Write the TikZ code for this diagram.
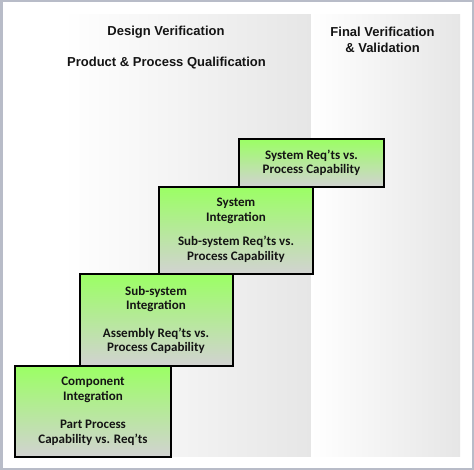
\documentclass[tikz,border=0pt]{standalone}
\usepackage{fontspec}
\setmainfont{Carlito}
\newfontfamily\arialfont{Liberation Sans}
\definecolor{framegray}{RGB}{184,188,200}
\definecolor{panelgray}{RGB}{230,230,230}
\definecolor{boxgreen}{RGB}{155,255,100}
\definecolor{boxgray}{RGB}{210,210,210}
\definecolor{txt}{RGB}{20,20,20}
\tikzset{
  stagebox/.style={draw=black, line width=2pt, top color=boxgreen, bottom color=boxgray,
    align=center, inner sep=0pt, text=txt,
    font=\fontsize{13}{14.5}\selectfont\bfseries},
  headtext/.style={align=center, text=txt, inner sep=0pt,
    font=\arialfont\fontsize{13}{16}\selectfont\bfseries}
}
\begin{document}
\begin{tikzpicture}[x=1pt,y=-1pt]
\useasboundingbox (0,0) rectangle (474,470);
\fill[white] (0,0) rectangle (474,470);
\draw[framegray, line width=2.5pt] (1.25,1.25) rectangle (472.75,468.75);
% panels
\shade[left color=white, right color=panelgray] (64,15) rectangle (311,456);
\shade[left color=white, right color=panelgray] (311,15) rectangle (460,456);
% headers
\node[headtext] (dv) at (166,32) {Design Verification};
\node[headtext] (ppq) at (166.5,63) {Product \& Process Qualification};
\node[headtext] (fvv) at (382.5,40) {Final Verification\\\& Validation};
% boxes
\node[stagebox, minimum width=145pt, minimum height=48pt] (sr) at (311.5,163)
  {System Req’ts vs.\\Process Capability};
\node[stagebox, minimum width=154pt, minimum height=87pt] (si) at (236,230.5)
  {System\\Integration\\[10pt]Sub-system Req’ts vs.\\Process Capability};
\node[stagebox, minimum width=153pt, minimum height=92pt] (ssi) at (156,320)
  {Sub-system\\Integration\\[13pt]Assembly Req’ts vs.\\Process Capability};
\node[stagebox, minimum width=156pt, minimum height=91pt] (ci) at (93,411.5)
  {Component\\Integration\\[14pt]Part Process\\Capability vs. Req’ts};
\end{tikzpicture}
\end{document}
